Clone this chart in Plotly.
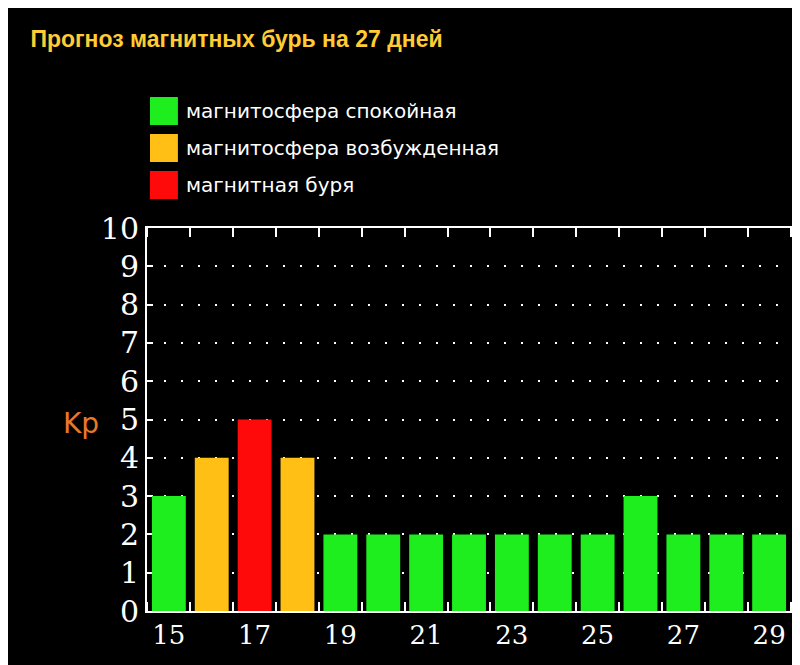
import plotly.graph_objects as go

days = list(range(15, 30))
kp = [3, 4, 5, 4, 2, 2, 2, 2, 2, 2, 2, 3, 2, 2, 2]
state = ['calm', 'excited', 'storm', 'excited'] + ['calm'] * 11
palette = {'calm': '#1eee1e', 'excited': '#ffbf14', 'storm': '#ff0a0a'}
legend_labels = [('calm', 'магнитосфера спокойная'),
                 ('excited', 'магнитосфера возбужденная'),
                 ('storm', 'магнитная буря')]
x_ticks = [15, 17, 19, 21, 23, 25, 27, 29]

fig = go.Figure(go.Bar(x=days, y=kp, width=0.79,
                       marker=dict(color=[palette[s] for s in state], line_width=0)))

serif = 'DejaVu Serif'
pw = 661.0
ph = 383.0
fig.update_layout(
    width=800, height=665, paper_bgcolor='black', plot_bgcolor='black',
    margin=dict(l=139, r=0, t=220, b=62), showlegend=False,
    title=dict(text='Прогноз магнитных бурь на 27 дней', x=0.028, y=0.965,
               font=dict(family='Liberation Sans', size=23, color='#ffcc33', weight='bold')),
)
fig.update_xaxes(range=[14.49, 29.86], tickvals=x_ticks, ticks='', showgrid=False,
                 showline=True, linecolor='white', linewidth=2, mirror='allticks',
                 tickfont=dict(family=serif, size=26, color='white'),
                 minor=dict(tick0=15.5, dtick=1, ticks='inside', ticklen=9,
                            tickcolor='white', tickwidth=2, showgrid=False))
fig.update_yaxes(range=[0, 10], dtick=1, ticks='inside', ticklen=6, tickcolor='white',
                 tickwidth=2, showline=True, linecolor='white', linewidth=2, mirror=True,
                 showgrid=True, gridcolor='white', griddash='2px,15px', gridwidth=2,
                 zeroline=False, tickfont=dict(family=serif, size=30, color='white'),
                 layer='below traces')

fig.add_annotation(text='Kp', xref='paper', yref='paper', x=-0.07, y=0.49, showarrow=False,
                   xanchor='right', font=dict(family='DejaVu Sans', size=28, color='#e8782a'))

for i, (key, label) in enumerate(legend_labels):
    y0 = 97 + i * 37
    fig.add_shape(type='rect', xref='paper', yref='paper', x0=(150 - 147) / pw,
                  x1=(178 - 147) / pw, y0=(611 - y0 - 28) / ph, y1=(611 - y0) / ph,
                  fillcolor=palette[key], line_width=0)
    fig.add_annotation(text=label, xref='paper', yref='paper', x=(184 - 147) / pw,
                       y=(611 - y0 - 14) / ph, xanchor='left', yanchor='middle',
                       showarrow=False,
                       font=dict(family='DejaVu Sans', size=20, color='white'))

fig.write_html('out.html')
